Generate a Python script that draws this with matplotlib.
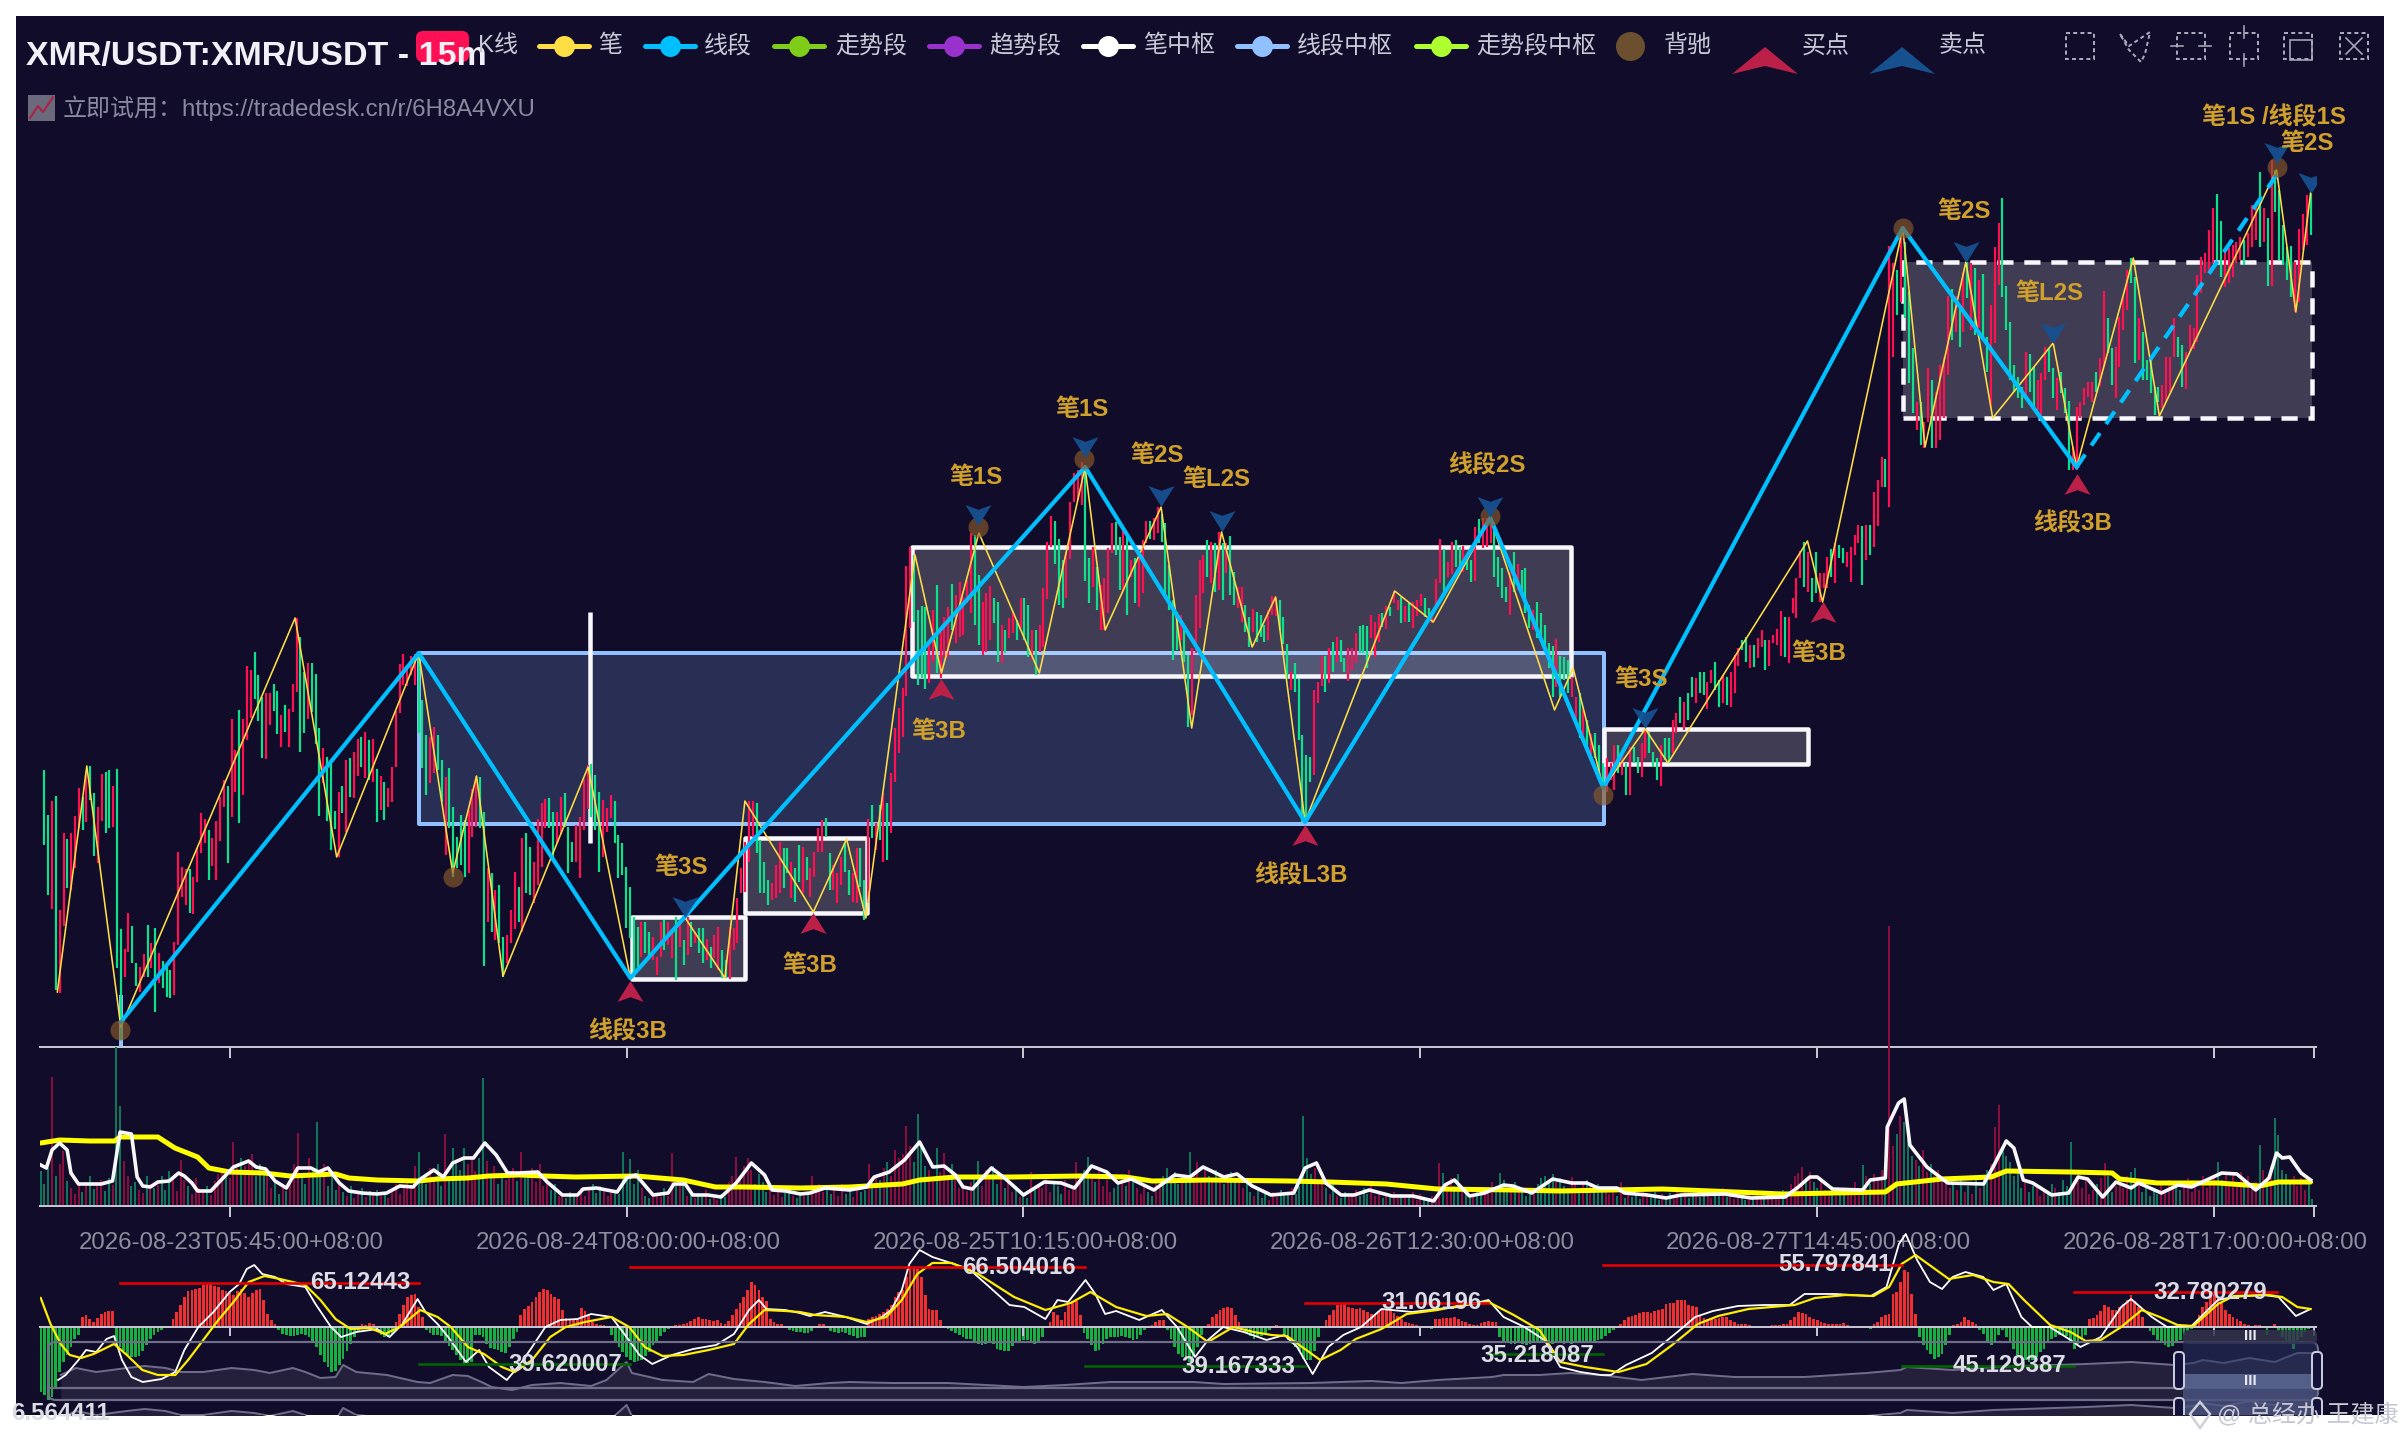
import matplotlib
matplotlib.use("Agg")
import matplotlib.pyplot as plt
import numpy as np
from matplotlib.patches import Rectangle, FancyBboxPatch, Polygon
from matplotlib.path import Path
from matplotlib.transforms import ScaledTranslation

# ---------- candles: (high, low, up) per stretch of the chart ----------
bars_a = [(290,215,0),(245,165,0),(259,151,1),(264,70,0),(150,67,1),(227,134,1),(221,172,0),(227,170,1),(244,192,1),(272,232,1),
(263,230,0),(286,238,1),(294,260,0),(267,204,0),(253,197,1),(286,239,1),(288,227,0),(290,232,0),(274,233,1),(291,92,0),
(131,20,0),(111,83,1),(147,108,1),(134,97,0),(97,74,0),(93,68,1),(106,83,1),(135,83,0),(117,92,1),(132,48,0),
(107,77,1),(99,72,0),(97,63,0),(90,62,0),(118,65,1),(208,115,1),(193,163,1),(191,155,1),(191,147,0),(183,146,1),
(212,178,1),(247,207,1),(241,217,1),(230,180,0),(222,194,1),(239,180,1),(263,219,1),(280,253,1),(274,197,0),(341,243,1),
(310,268,1),(350,237,0),(341,265,1),(394,320,1),(390,342,1),(408,361,0),(385,339,0),(363,302,0),(367,301,1),(367,335,1),
(376,349,0),(369,326,0),(345,313,1),(355,328,0),(351,313,1),(376,348,1),(442,368,1),(423,308,0),(388,327,0),(397,341,1),
(397,348,0),(386,316,0),(332,244,0),(312,277,1),(303,239,0),(296,210,0),(249,231,0),(268,203,1),(274,247,0),(300,228,1),
(302,263,0),(308,262,1),(321,284,1),(323,293,0),(328,282,1),(320,280,0),(321,278,1),(291,238,0),(284,250,1),(278,240,0),
(272,253,1),(293,258,1),(349,293,1),(396,347,1),(406,375,1),(395,374,1),(404,385,1),(406,375,1),(407,327,0)]
bars_b = [(360,292,0),(325,265,0),(323,277,1),(333,287,1),(325,290,0),(300,258,0),(283,205,1),(292,232,0),(253,183,0),(223,192,0),
(245,195,0),(240,183,0),(250,187,1),(271,223,1),(284,233,1),(283,232,0),(248,94,0),(192,138,1),(187,128,0),(170,120,1),
(175,117,0),(123,83,0),(125,97,1),(150,117,1),(188,131,1),(173,138,0),(222,128,1),(227,167,0),(213,165,0),(198,157,1),
(241,175,1),(257,193,1),(261,232,1),(262,232,0),(248,203,0),(248,217,1),(263,226,1),(267,233,0),(233,187,0),(218,198,0),
(235,198,1),(243,182,1),(281,230,1),(295,251,1),(296,243,0),(285,230,0),(268,188,0),(260,203,1),(252,228,1),(265,242,1),
(259,217,0),(225,182,0),(217,185,0),(193,132,0),(173,122,0),(143,83,0),(133,93,0),(138,103,1),(138,107,0),(128,102,0),
(123,100,1),(103,85,1),(138,103,1),(140,110,0),(138,115,1),(128,102,1),(143,80,0),(135,113,1),(120,95,0),(143,105,1),
(138,113,0),(128,117,1),(132,107,0),(132,97,0),(121,100,1),(113,92,0),(125,102,1),(133,90,1),(110,82,0),(100,82,0),
(133,81,1),(132,110,1),(162,117,1),(192,167,1),(218,168,1),(259,198,1),(259,223,1),(257,207,0),(220,167,0),(198,167,0),
(180,155,0),(177,160,1),(195,162,1),(218,167,1),(212,172,0),(212,187,0),(198,162,1),(192,158,0),(215,178,0),(213,167,1),
(203,180,0),(192,163,1),(208,183,1),(232,208,1),(240,208,1),(242,223,0),(207,170,0),(195,170,1),(187,157,1),(203,175,1),
(217,188,0),(190,165,0),(187,158,1),(212,157,1),(212,173,0),(180,140,0),(241,157,1),(255,222,0),(237,210,1),(255,220,0),
(267,198,1),(257,200,0),(287,227,1),(332,278,1),(352,307,1)]
bars_c = [(372,323,1),(494,364,1),(513,432,1),(505,438,0),(450,375,0),(454,382,0),(453,371,0),(417,377,1),(450,398,1),(475,387,0),
(428,382,1),(443,403,1),(453,403,1),(476,430,0),(465,417,1),(478,423,1),(463,425,1),(480,457,1),(527,447,1),(525,435,0),
(485,415,0),(458,405,1),(467,408,1),(474,420,1),(462,437,0),(458,398,0),(435,397,1),(430,407,0),(442,422,1),(448,427,1),
(440,420,0),(462,432,1),(462,420,0),(455,403,0),(430,400,1),(430,385,0),(435,408,1),(472,413,1),(518,461,1),(544,513,1),
(539,496,0),(521,455,0),(500,452,0),(508,462,1),(558,501,1),(587,558,1),(590,560,1),(598,555,1),(595,479,0),(502,457,0),
(513,473,1),(493,450,0),(475,430,1),(482,430,1),(512,447,1),(537,507,1),(538,505,0),(523,470,0),(533,468,1),(526,445,0),
(500,483,1),(502,457,0),(502,453,1),(520,467,1),(539,517,1),(539,521,0),(542,520,1),(553,527,1),(546,518,0),(537,463,0),
(495,450,0),(460,400,0),(448,410,0),(445,420,1),(435,398,0),(405,333,0),(412,345,1),(465,407,1),(500,432,1),(505,467,1),
(520,483,0),(518,477,1),(517,468,0),(528,470,1),(517,460,0),(517,487,1),(524,465,0),(488,455,0),(473,452,1),(473,438,1),
(455,428,0),(443,413,0),(451,428,1),(448,418,0),(445,423,0),(435,418,0),(450,420,1),(464,445,1),(462,444,1),(460,430,0),
(443,416,0),(416,381,0),(388,370,1),(397,368,0),(381,320,0),(325,238,0),(305,238,0),(303,278,0),(370,285,1),(378,357,1),
(404,374,1),(404,368,0),(412,377,1),(418,388,0),(423,398,1),(420,398,0),(402,388,0),(412,379,1),(412,390,1),(427,397,1),
(434,407,0),(435,407,0),(434,392,0),(445,422,1),(438,403,1),(446,418,1),(447,433,0),(454,431,1),(453,444,0),(469,457,1),(460,450,1)]
bars_d = [(463,437,0),(454,438,1),(457,438,0),(458,432,1),(460,444,1),(466,454,1),(462,443,0),(452,443,0),(449,437,1),(481,452,1),
(521,477,1),(511,463,0),(498,483,1),(518,486,1),(520,493,0),(513,492,0),(514,488,1),(504,490,0),(500,478,0),(533,479,1),
(541,517,0),(542,512,1),(542,513,1),(543,517,1),(535,483,0),(503,473,0),(492,462,0),(473,458,0),(488,445,1),(508,468,0),
(496,470,1),(490,467,0),(492,447,0),(455,432,0),(450,430,1),(458,422,0),(447,418,0),(435,408,0),(417,392,0),(414,363,0),
(421,373,1),(404,363,0),(403,380,0),(400,367,0),(383,363,1),(363,340,1),(367,322,0),(351,325,1),(340,313,0),(326,305,1),
(327,302,0),(315,288,0),(297,273,0),(302,268,1),(297,280,1),(315,270,1),(315,287,0),(307,285,1),(297,265,0),(313,265,1),
(313,297,0),(303,287,0),(317,283,1),(331,302,1),(328,307,0),(308,293,0),(302,280,0),(315,274,1),(322,300,0),(322,297,0),
(340,307,1),(347,327,1),(363,337,0),(358,330,1),(367,340,0),(383,363,0),(382,357,1),(388,367,0),(388,365,0),(378,351,1),
(390,377,1),(398,370,0),(380,353,0),(385,357,1),(383,355,0),(388,353,1),(405,367,1),(412,394,1),(420,410,0),(423,398,0),
(415,392,1),(415,393,0),(422,402,1),(430,413,1),(420,390,0),(420,394,1),(425,417,1),(431,415,1),(449,404,1),(443,403,0),
(443,397,1),(462,447,1),(482,442,1),(509,482,1),(518,473,0),(508,468,1),(482,458,0),(508,467,0),(487,458,1),(487,472,1),
(503,472,1),(511,483,0),(517,477,1),(515,502,0),(512,497,0),(508,493,1),(513,478,1),(525,505,1),(535,517,1),(534,475,0),
(535,500,1),(535,505,0),(568,513,1),(580,534,1)]
bars_e = [(603,573,1),(601,573,0),(814,553,1),(797,703,1),(790,745,0),(832,758,1),(818,742,0),(768,677,0),(712,647,0),(658,630,1),
(658,615,0),(638,612,1),(692,638,1),(680,612,0),(668,612,1),(695,620,1),(703,642,1),(764,685,1),(771,720,0),(764,728,1),
(753,713,0),(788,728,1),(798,762,0),(797,730,1),(792,725,0),(780,732,1),(786,722,0),(723,688,0),(755,652,1),(813,717,1),
(837,775,1),(862,763,0),(774,730,0),(738,680,0),(695,668,0),(683,662,0),(673,652,0),(708,662,1),(706,668,0),(693,653,0),
(680,650,1),(687,643,1),(713,680,1),(712,688,0),(692,662,0),(682,650,1),(688,667,0),(672,647,0),(659,590,0),(613,590,1),
(653,590,1),(658,642,1),(672,655,1),(678,663,1),(678,658,1),(688,668,0),(702,674,1),(769,693,1),(742,707,0),(712,675,0),
(713,662,1),(743,693,1),(763,730,1),(790,750,1),(802,777,0),(783,697,0),(742,700,1),(728,680,0),(700,680,0),(704,667,0),
(673,645,0),(673,658,0),(675,652,1),(703,658,1),(703,668,1),(742,703,1),(723,703,0),(715,673,0),(708,671,1),(735,710,1),
(732,711,1),(785,718,1),(803,767,1),(807,787,1),(830,788,1),(852,797,1),(866,800,0),(839,783,0),(808,773,1),(812,777,1),
(815,783,1),(818,797,1),(823,800,1),(820,795,0),(827,803,1),(855,813,1),(853,820,1),(888,813,0),(852,818,1),(842,774,0),
(900,774,1),(890,848,0),(870,800,0),(835,795,0),(813,780,0),(814,763,0),(798,748,1),(831,758,1),(846,810,1),(865,815,1),(867,825,0)]
bar_spans = [(1, 100), (101, 227), (228, 359), (360, 486), (487, 600.5)]

# ---------- structure drawn on the price chart ----------
bi_idx = [4.4,12.2,21.2,67.3,78.3,100,109,115.3,122.3,144.8,156,170.5,181,186.3,204.4,213.2,218.3,231.3,238.3,248.2,264.2,276.3,281.6,296.4,304.5,312.4,320.5,326.7,334.5,358.2,368.4,383.5,400.5,405.4,413.4,424.5,430.5,467.4,471.4,492.6,498.5,509.3,516.4,532.4,538.6,553.6,560.5,591.5,596.6,600.5]
bi_price = [68,294,33,442,203,407,187,284,84,293,82,142,82,259,148,221,142,505,387,527,387,593,430,553,332,528,413,463,238,469,438,542,350,392,272,331,297,519,458,832,613,798,642,717,593,802,644,890,748,867]
seg_idx = [21.2,100,156,276.3,334.5,383.5,413.4,492.6,538.6]
seg_price = [38,407,82,593,238,542,272,832,593]
seg_pending_idx = [538.6,591.5]
seg_pending_price = [593,885]
bi_zs_left = [156.4,186.3,230.4,413.7,145.3]
bi_zs_right = [186.3,218.6,404.8,467.6,145.3]
bi_zs_low = [81,147,384,296,217]
bi_zs_high = [143,222,513,331,448]
pending_zs = (492.6, 601, 642, 798)
seg_zs_left = [100, 21.2]
seg_zs_right = [413.6, 21.2]
seg_zs_low = [236, 13]
seg_zs_high = [407, 65]
divergence_idx = [21,109,248,276,383.5,413.3,492.6,591.5]
divergence_price = [30,183,533,601,544,265,832,893]
buy_idx = [156,204.4,238.3,334.5,471.4,538.6]
buy_price = [69,137,371,225,448,576]
sell_idx = [248,276.3,296.4,312.4,383.5,424.5,170.5,509.3,532.4,591.5,600.5]
sell_price = [545,613,564,539,553,342,153,808,727,907,877]
signal_text = ['笔1S','笔1S','笔2S','笔L2S','线段2S','笔3S','线段L3B','笔3B','笔3S','笔3B','线段3B','笔3B','笔2S','笔L2S','线段3B','笔1S /线段1S','笔2S']
signal_idx = [247.6,275.6,295.4,311,382.5,423.4,333.5,237.5,169.5,203.5,155.3,470.4,508.9,531.5,537.6,590.7,599.6]
signal_price = [583,651,605,580,594,381,184,329,193,95,28,407,848,767,536,942,917]

# ---------- volume ----------
volume = [35,22,38,129,30,42,55,25,18,12, 22,14,24,30,17,20,26,15,28,21, 159,100,45,30,20,24,16,13,30,22,
18,21,30,16,35,28,15,46,26,20, 12,28,18,13,20,11,25,32,36,34, 28,64,38,48,40,44,52,30,42,35,
30,18,24,12,20,15,26,42,73,30, 22,48,35,84,30,42,20,35,16,24, 14,10,20,8,13,18,9,15,12,16,
10,14,8,16,22,12,18,25,20,40, 54,30,22,38,28,42,20,72,30,58, 45,36,58,42,50,35,48,128,45,28,
40,22,30,26,35,38,25,54,28,30, 38,24,42,20,32,16,22,10,12,8, 14,9,12,18,10,16,22,13,20,15,
10,14,16,12,54,30,47,22,36,18, 10,8,14,12,9,18,10,53,20,26, 22,10,14,8,12,9,16,7,11,6,
12,9,24,30,49,26,40,48,36,22, 32,24,14,20,11,16,9,13,18,10, 8,14,10,12,30,18,22,14,20,12,
16,10,22,12,18,9,20,14,16,42, 24,30,26,38,44,30,56,48,52,80, 60,44,92,58,40,36,28,58,34,53,
30,42,26,18,22,15,24,30,45,20, 36,28,40,22,32,18,26,14,20,9, 12,8,34,16,22,18,28,14,24,20,
12,26,16,20,44,30,36,49,32,24, 36,20,26,14,18,22,26,20,36,24, 18,12,20,14,10,24,18,30,38,26,
34,22,30,28,54,32,44,24,38,30, 26,36,28,22,32,34,26,30,18,24, 14,10,16,8,12,6,14,9,16,11,
14,18,12,20,90,48,32,38,24,30, 18,12,22,10,8,14,9,12,16,10, 18,12,20,10,14,8,12,9,14,10,
12,8,10,14,6,12,9,5,10,7, 43,33,24,28,20,32,14,12,8,10, 14,12,16,18,24,20,33,26,16,22,
24,18,14,10,16,12,22,28,30,26, 32,24,28,20,18,29,22,16,24,26, 20,16,22,14,16,12,18,10,24,8,
14,9,12,7,16,10,8,14,6,12, 9,13,7,16,10,14,8,12,18,9, 15,11,8,14,10,18,9,12,7,14,
10,6,12,8,14,9,7,11,8,13, 9,16,12,22,30,33,39,28,34,24, 18,28,16,12,20,10,14,18,12,16,
24,18,41,30,22,32,26,36,40,280, 60,72,90,84,68,50,46,40,56,34, 42,30,36,24,30,18,22,16,28,14,
20,12,26,18,30,36,42,79,101,59, 50,44,30,34,18,26,14,20,22,10, 16,12,22,18,14,26,20,64,24,30,
18,26,12,16,22,28,43,30,14,20, 26,18,30,34,38,22,14,20,10,16, 12,22,14,26,18,24,16,20,28,14,
22,16,30,18,24,28,44,26,34,20, 32,22,34,26,30,18,24,61,36,28, 40,88,71,36,32,24,30,20,28,16, 22,7]
vol_fast_idx = [0,1.5,3,5,7,8,10,13,16,19,21,24,25.5,27,29,31,34,36.5,38,40,41.5,45,48,51,55,57,59.5,62,65,68,71.5,73.5,76,79,81.5,85,89,91.5,95,98.5,100.5,104,106.5,109,112,114.5,117.5,120.5,123.5,126.5,131.5,134,138,142,143.5,147,152.5,155,157.5,162,166,167.5,170.5,172.5,176.5,180,184,188,191.5,193.5,197,201,203.5,207.5,214,218.5,220.5,224.5,228.5,232.5,236,239,242,244,246.5,251.5,255,260,265.5,270,273.5,278,282,285,288.5,294.5,300,304,307.5,313,316.5,320.5,325.5,331.5,334.5,337.5,340,344,347.5,351.5,357.5,363,368.5,371.5,374,378,382,387,389.5,394.5,400,405,409,412,417,419,425,430,434,445.5,452.5,461.5,465,468,470,474,482,484,488,488.5,491.5,493,494.5,499,504.5,514,516.5,520,522,524.5,527,532,536.5,539,541.5,545.5,549,553,555,561,565.5,569,573,577,581,586,589.5,591.5,593,595,598,600.5]
vol_fast = [41,38,56,63,56,33,22,22,22,25,74,72,29,20,19,24,25,33,30,23,15,15,27,39,45,39,37,25,18,38,38,34,38,23,15,13,12,13,20,19,27,36,29,43,48,48,63,51,33,33,34,24,11,11,17,18,14,28,31,11,13,22,22,11,11,9,23,43,31,16,15,12,13,18,16,19,29,34,46,64,39,40,31,19,17,38,28,11,24,23,18,40,34,23,27,16,31,29,39,29,32,20,11,13,38,43,23,11,11,16,10,10,5,21,26,10,13,21,20,13,27,23,23,18,18,13,11,8,11,12,8,9,19,29,29,17,16,26,28,79,103,107,61,39,23,22,39,65,58,26,23,11,13,29,27,9,24,18,23,13,21,19,26,33,32,16,28,53,48,49,33,26]
vol_slow_idx = [0,5,13,19.5,21,31,35.5,41.5,44.5,50,59,66,78,81.5,89,100,105,113,118.5,126.5,133,141.5,157.5,170,178.5,186,201,214,228,232.5,242,257,275,287,294,309,330,341,356,369.5,390,402,429,442,461,488,491,503,516,520,537,548,550,560,576,587,592,600.5]
vol_slow = [63,66,65,65,69,69,58,49,38,34,33,30,32,28,26,25,27,28,30,31,30,29,30,26,19,19,18,19,22,26,29,29,30,29,25,26,25,24,22,17,16,15,17,15,12,14,22,27,29,35,34,33,27,23,23,20,24,24]

# ---------- MACD ----------
macd_hist = [-65,-68,-73,-70,-60,-45,-35,-28,-20,-12, -8,10,12,8,5,9,13,15,16,16, -14,-20,-24,-28,-30,-30,-29,-24,-18,-12,
-8,-5,-3,-1,0,8,15,22,30,36, 37,38,39,42,43,43,41,40,37,36, 34,32,36,38,34,30,34,37,38,27,
13,7,3,-3,-7,-8,-9,-9,-8,-7, -8,-10,-14,-20,-28,-35,-40,-45,-44,-38, -32,-24,-17,-10,-5,3,2,4,3,-5,
-8,-10,-10,-7,5,13,22,30,32,33, 20,10,-3,-6,-8,-8,-9,-14,-19,-23, -28,-33,-37,-36,-35,-8,-8,-10,-17,-21,
-22,-23,-25,-26,-20,-12,-5,12,18,21, 25,30,35,38,37,33,30,28,17,9, 8,8,8,19,16,12,5,3,2,2,
0,-8,-14,-20,-25,-30,-33,-35,-34,-33, -29,-25,-18,-14,-9,-5,-2,1,2,2, 3,4,6,8,10,8,8,7,6,7,
4,3,6,12,18,24,30,37,45,42, 37,30,26,8,5,3,3,1,-3,-4, -5,-5,-6,-6,-4,-1,3,3,1,-4,
-5,-6,-5,-6,-8,-9,-11,-10,-10,8, 10,11,13,15,18,22,30,35,37,50, 60,60,58,50,32,18,17,17,7,-1,
-2,-4,-6,-8,-10,-12,-12,-14,-17,-18, -17,-15,-17,-22,-23,-24,-24,-19,-15,-14, -13,-13,-14,-17,-16,-10,0,5,15,12,
7,15,22,26,26,12,-6,-12,-18,-24, -23,-17,-12,-10,-10,-10,-9,-10,-11,-13, -12,-8,-3,0,2,5,7,7,-3,-12,
-20,-27,-30,-33,-35,-30,-20,-8,0,3, 10,13,17,19,20,19,12,5,1,-6, -9,-12,-10,-9,-7,-3,0,2,0,-7,
-13,-17,-20,-24,-32,-33,-33,-24,-10,0, 7,12,17,22,24,23,20,19,18,19, 17,15,13,12,15,18,18,17,14,11,
8,5,4,3,2,0,0,0,-2,8, 8,9,9,9,10,8,6,5,3,2, 2,4,5,6,5,5,-10,-14,-16,-17,
-17,-16,-17,-18,-17,-16,-15,-16,-15,-16, -17,-16,-16,-17,-16,-17,-16,-15,-16,-15, -14,-14,-13,-12,-9,-6,-3,0,3,7,
10,11,12,14,15,15,14,16,17,18, 23,24,24,27,27,27,22,21,20,12, 9,8,8,8,9,10,10,7,5,3,
3,3,2,1,1,1,1,1,2,2, 2,3,3,7,10,15,14,13,10,8, 7,5,4,3,3,3,3,4,2,1,
1,1,-1,0,-2,3,5,10,12,13, 33,35,45,57,55,33,13,-10,-18,-23, -27,-32,-30,-27,-18,-8,2,3,5,10,
7,5,3,-3,-7,-15,-18,-16,-8,-3, -10,-15,-22,-28,-31,-33,-35,-33,-30,-25, -22,-15,-12,-10,-8,-8,-9,-14,-22,-17,
-13,-8,8,9,12,16,22,20,17,17, 20,23,27,32,26,20,10,0,-4,-8, -13,-15,-18,-20,-19,-16,-13,-8,-4,-2,
3,12,20,25,31,35,30,24,17,13, 10,8,6,3,2,1,2,2,1,-8, 1,3,-4,-10,-15,-17,-22,-13,-10,-5, -2,0]
dif_idx = [4.6,6.6,10,12,14.7,17.4,19.4,21.5,24,27,32,35.6,38,41.7,45.7,50,52.5,54.5,56.5,58.6,62,65,70,72.7,76.8,79.5,83.5,89,92.3,95.7,99.7,101.8,105,107.8,112.5,116,118.6,123.3,126.7,130,133.5,137.5,142,145.6,151,155,158.4,161.8,167,172.6,178.7,183.4,187.4,190,192,197,200.8,203.5,207.5,213,218.5,222.5,225,227.8,229.8,232.5,235.9,240,245.6,251,256.3,260.2,265.8,269,271.8,276.4,279,281.6,284.5,290.6,296.6,300.6,305.4,308.8,312.8,318.3,324.3,329,332.4,336.5,340.6,344.6,349.3,354.7,362.8,369.5,375,383,387,392.5,397.8,402,407.3,412.7,415.4,419.4,426.2,433,437.7,442.4,449,455.9,462.7,466.6,474.8,484.2,488.3,491.6,493.4,496.4,499.8,503,505.8,509.2,513.9,516.6,520,524,526.8,531.5,537,539.6,545,550.4,553,558.5,562.5,569,576,580,588,592,596.6,600.5]
dif = [-53,-48,-33,-23,-25,-12,-9,-33,-50,-55,-52,-45,-23,0,15,35,43,58,62,53,50,43,40,23,0,-10,-5,-2,-10,3,28,15,3,-10,-35,-23,-40,-53,-38,-20,0,7,8,13,10,-10,-28,-37,-28,-22,-18,-7,17,27,18,17,14,11,15,10,3,10,17,37,63,77,70,65,58,40,22,20,8,27,25,47,33,13,16,7,17,0,-30,-13,0,-5,-13,-8,-20,-47,-20,-8,0,18,15,18,20,27,10,0,-13,-40,-45,-48,-48,-38,-26,-5,10,16,21,22,22,33,33,31,40,83,93,67,45,38,50,55,50,37,43,10,0,0,-13,-20,-10,20,28,10,0,1,27,30,32,30,11,18]
dea_idx = [0,2.6,5.3,7.7,10.7,14,19.4,22.8,26.9,31,35.6,39,43,47,51,55,59.2,63.3,70,74,78,82,87,91,95,100.4,105,108.5,113,117.3,122,125.4,130,134.8,138.9,144,151,155.7,159.8,164.5,170,176.7,183.4,187.4,191.5,197,200.8,204.9,213,218.5,223.7,227.8,231.9,235.9,241,248,257.5,265.8,272.5,277.7,284.5,292.5,298,303.4,308.8,315.5,320.9,325.6,329.7,333.7,338.5,343.9,347.9,354.7,361.4,369.5,376.3,383,389.7,396.5,402,408.6,417.4,424.8,431.6,438.4,443.8,451.8,464,469.4,477.5,484.9,489,492.3,496,500.4,504.8,511.2,516.6,520.6,524.7,531.6,537,541,545,550.4,555.8,560.6,565.3,569.5,576,580.2,589.5,593,597,600.5]
dea = [29,3,-17,-28,-31,-27,-17,-28,-43,-48,-48,-33,-13,7,25,45,51,48,42,27,8,-2,-1,-7,0,17,10,0,-20,-27,-40,-45,-33,-10,0,5,10,0,-20,-29,-28,-23,-17,3,17,16,15,12,10,5,10,27,53,64,64,53,30,17,24,35,20,11,13,0,-15,0,-5,-8,-9,-20,-33,-23,-12,-2,13,17,22,25,12,-3,-35,-40,-45,-37,-18,3,11,18,22,29,32,31,40,63,72,60,48,52,45,43,27,2,-5,-14,-13,0,17,10,2,1,23,31,32,30,20,18]
peak_start = [21,100,156,276.4,334.5,383,413.4,492.3,538]
peak_end = [100,156,276.4,334.5,383,413.4,492.3,538,591.5]
peak_level = [44,-37,60,-39,24,-27,62,-39,35]
peak_text = ['65.12443','39.620007','66.504016','39.167333','31.06196','35.218087','55.797841','45.129387','32.780279']
peak_text_idx = [84.6,138.9,258.8,316.9,367.9,395.8,474.8,520.9,574]
peak_text_level = [44.2,-37.5,59.2,-39.8,24.5,-28.2,62.5,-38.8,34.5]
first_peak_text = '6.564411'

# ---------- overview strip ----------
overview_idx = [5.3,9.3,14.7,22.8,27.5,33,37,43,50.5,56.5,60.6,66.7,70,74,78,80,83.5,91.6,99.7,103,109,113,116.6,119.3,124.7,130,137.5,145.6,149.7,155,156.4,164.5,172.6,176.7,183.4,191.5,199.6,208.8,214,225,240,260,271,283,305,313,336,352,360,369.5,384,387,396.5,404.6,412.7,423.5,437,448,466.7,483,492,493.7,505.8,516.6,541,553,564.5,569.5,572,577.5,584.3,591,597,601]
overview = [25,32,28,32,34,32,28,28,32,30,27,32,28,22,23,35,28,25,18,17,25,24,18,13,10,15,17,14,20,38,27,20,18,26,21,18,14,17,18,17,17,13,15,18,18,16,17,19,17,20,23,25,25,27,25,20,26,23,23,27,30,33,30,33,36,38,35,37,40,37,42,38,47,47]

tick_idx = [50,155,260,365,470,575]
tick_labels = ['2026-08-23T05:45:00+08:00','2026-08-24T08:00:00+08:00','2026-08-25T10:15:00+08:00','2026-08-26T12:30:00+08:00','2026-08-27T14:45:00+08:00','2026-08-28T17:00:00+08:00']
legend_lines = ['笔','线段','走势段','趋势段','笔中枢','线段中枢','走势段中枢']

# ---------- styling ----------
BG = '#100C2A'
RED, GREEN = '#FF1050', '#0FE08A'
VOL_RED, VOL_GREEN = '#870E3D', '#0F765A'
AXIS = '#C4C4D2'
GOLD = '#D0A02C'
BI = '#FFDD44'
SEG = '#00BFFF'
SEG_ZS = '#90C0FF'
SELL, BUY = '#16508F', '#BB2049'
FONT = ['Liberation Sans', 'Noto Sans CJK SC', 'DejaVu Sans']
plt.rcParams['font.family'] = FONT
PX = 0.72  # points per output pixel at dpi 100
W, H = 2400, 1440

fig = plt.figure(figsize=(24, 14.4), dpi=100, facecolor='white')

def panel(left, top, right, bottom, zorder):
    ax = fig.add_axes([left / W, 1 - bottom / H, (right - left) / W, (bottom - top) / H], zorder=zorder)
    ax.patch.set_alpha(0)
    for s in ax.spines.values():
        s.set_visible(False)
    ax.set_yticks([])
    ax.set_xticks([])
    ax.set_xlim((left - 40.7) / 3.78, (right - 40.7) / 3.78)
    return ax

chrome_bg = fig.add_axes([0, 0, 1, 1], zorder=0)
chrome_bg.set_xlim(0, W); chrome_bg.set_ylim(H, 0); chrome_bg.axis('off')
chrome_bg.add_patch(Rectangle((16, 16), 2368, 1399, fc=BG, ec='none'))

all_ticks = tick_idx + [601.5]

# ---- price panel ----
ax = panel(40, 27, 2316, 1047, 3)
ax.set_ylim(13, 1033)
ax.spines['bottom'].set_visible(True)
ax.spines['bottom'].set_color(AXIS)
ax.spines['bottom'].set_linewidth(2 * PX)
ax.set_xticks(all_ticks)
ax.set_xticklabels([])
ax.tick_params(axis='x', direction='out', length=11 * PX, width=2 * PX, color=AXIS)

for l, r, lo, hi in zip(seg_zs_left, seg_zs_right, seg_zs_low, seg_zs_high):
    ax.add_patch(Rectangle((l, lo), r - l, hi - lo, fc=SEG_ZS, alpha=0.2, ec='none', zorder=1))
    ax.add_patch(Rectangle((l, lo), r - l, hi - lo, fc='none', ec=SEG_ZS, lw=4 * PX, zorder=1.1, joinstyle='round'))
for l, r, lo, hi in zip(bi_zs_left, bi_zs_right, bi_zs_low, bi_zs_high):
    ax.add_patch(Rectangle((l, lo), r - l, hi - lo, fc='white', alpha=0.2, ec='none', zorder=1.2))
    ax.add_patch(Rectangle((l, lo), r - l, hi - lo, fc='none', ec='#F8F8FC', lw=4.5 * PX, zorder=1.3, joinstyle='round'))
pl, pr, plo, phi = pending_zs
ax.add_patch(Rectangle((pl, plo), pr - pl, phi - plo, fc='white', alpha=0.2, ec='none', zorder=1.2))
ax.add_patch(Rectangle((pl, plo), pr - pl, phi - plo, fc='none', ec='#F8F8FC', lw=4.5 * PX, zorder=1.3,
                       linestyle=(0, (3.6, 2.4))))

bar_idx, bar_high, bar_low, bar_up = [], [], [], []
for rows, (first, last) in zip([bars_a, bars_b, bars_c, bars_d, bars_e], bar_spans):
    bar_idx.extend(np.linspace(first, last, len(rows)))
    bar_high.extend(r[0] for r in rows)
    bar_low.extend(r[1] for r in rows)
    bar_up.extend(r[2] for r in rows)
bar_idx = np.array(bar_idx); bar_up = np.array(bar_up)
ax.vlines(bar_idx, bar_low, bar_high, colors=[RED if u else GREEN for u in bar_up], lw=2.2 * PX, zorder=2)

ax.plot(bi_idx, bi_price, color=BI, lw=1.6 * PX, zorder=3)
ax.plot(seg_idx, seg_price, color=SEG, lw=4.2 * PX, zorder=4)
ax.plot(seg_pending_idx, seg_pending_price, color=SEG, lw=4.2 * PX, zorder=4, linestyle=(0, (3.6, 2.6)))

ax.scatter(divergence_idx, divergence_price, s=(20 * PX) ** 2, color='#8B5A2B', alpha=0.65, linewidths=0, zorder=5)
up_arrow = Path([(0, .4), (.5, -.4), (0, -.22), (-.5, -.4), (0, .4)], closed=True)
down_arrow = Path([(0, -.4), (.5, .4), (0, .22), (-.5, .4), (0, -.4)], closed=True)
ax.scatter(buy_idx, buy_price, s=(26 * PX) ** 2, marker=up_arrow, color=BUY, linewidths=0, zorder=6)
ax.scatter(sell_idx, sell_price, s=(26 * PX) ** 2, marker=down_arrow, color=SELL, alpha=0.95, linewidths=0, zorder=6)
for t, i, p in zip(signal_text, signal_idx, signal_price):
    ax.text(i, p, t, color=GOLD, fontsize=24 * PX, fontweight='bold', ha='center', va='center', zorder=7, clip_on=False)

# ---- volume panel ----
vx = panel(40, 1047, 2316, 1206, 4)
vx.set_ylim(0, 159)
vx.spines['bottom'].set_visible(True)
vx.spines['bottom'].set_color(AXIS)
vx.spines['bottom'].set_linewidth(2 * PX)
vx.set_xticks(all_ticks)
vx.set_xticklabels(tick_labels + [''], color='#8E8E9E', fontsize=24 * PX)
vx.tick_params(axis='x', direction='out', length=11 * PX, width=2 * PX, color=AXIS, pad=15 * PX)
vol_x = np.arange(len(volume))
nearest = np.abs(bar_idx[None, :] - vol_x[:, None]).argmin(axis=1)
vx.vlines(vol_x, 0, volume, colors=[VOL_RED if bar_up[n] else VOL_GREEN for n in nearest],
          lw=2 * PX, clip_on=False, zorder=1)
vx.plot(vol_slow_idx, vol_slow, color='#FFFF00', lw=5 * PX, zorder=3, solid_capstyle='round', solid_joinstyle='round')
vx.plot(vol_fast_idx, vol_fast, color='white', lw=3.6 * PX, zorder=4, alpha=0.97, solid_joinstyle='round')

# ---- overview strip ----
ovx = panel(48, 1342, 2318, 1400, 5)
ovx.set_ylim(0, 58)
ovx.fill_between(overview_idx, 0, overview, color='#24203C', lw=0, zorder=1)
ovx.plot(overview_idx, overview, color='#6E6C88', lw=2 * PX, zorder=2)
ov2 = panel(48, 1400, 2318, 1415, 5)
ov2.set_ylim(28, 43)
ov2.fill_between(overview_idx, 0, overview, color='#24203C', lw=0, zorder=1)
ov2.plot(overview_idx, overview, color='#6E6C88', lw=2 * PX, zorder=2)

# ---- MACD panel ----
mx = panel(40, 1220, 2316, 1415, 6)
mx.set_ylim(-88, 107)
mx.spines['bottom'].set_visible(True)
mx.spines['bottom'].set_position(('data', 0))
mx.spines['bottom'].set_color(AXIS)
mx.spines['bottom'].set_linewidth(2 * PX)
mx.set_xticks(all_ticks)
mx.set_xticklabels([])
mx.tick_params(axis='x', direction='out', length=9 * PX, width=2 * PX, color=AXIS)
hist = np.array(macd_hist, dtype=float)
hx = np.arange(len(hist))
mx.bar(hx, hist, width=0.72, color=['#F03030' if v > 0 else '#18B040' for v in hist], lw=0, zorder=1)
mx.plot(dif_idx, dif, color='white', lw=1.8 * PX, zorder=3)
mx.plot(dea_idx, dea, color='#FFEE00', lw=2.2 * PX, zorder=4)
for a, b, lv in zip(peak_start, peak_end, peak_level):
    mx.plot([a, b], [lv, lv], color='#E60000' if lv > 0 else '#006400', lw=2.6 * PX, zorder=5)
for t, i, lv in zip(peak_text, peak_text_idx, peak_text_level):
    mx.text(i, lv, t, color='#DCDCE4', fontsize=24 * PX, fontweight='bold', ha='center', va='center', zorder=6)

# ---- page furniture, in output pixels ----
ui = fig.add_axes([0, 0, 1, 1], zorder=10)
ui.set_xlim(0, W); ui.set_ylim(H, 0); ui.axis('off'); ui.patch.set_alpha(0)
page_clip = Rectangle((16, 16), 2368, 1399, transform=ui.transData)
tail = ui.text(61, 1413, first_peak_text, color='#DCDCE4', fontsize=24 * PX, fontweight='bold', ha='center', va='center')
tail.set_clip_path(page_clip)

ui.add_patch(FancyBboxPatch((48, 1342), 2270, 58, boxstyle='round,pad=0,rounding_size=8', fc='none', ec='#6E6E88', lw=2.2 * PX, zorder=2))
ui.plot([48, 2318], [1388, 1388], color='#6E6E88', lw=2.2 * PX, zorder=2)
ui.add_patch(FancyBboxPatch((2183, 1330), 134, 14, boxstyle='round,pad=0,rounding_size=5', fc='#34344C', ec='none', alpha=0.85, zorder=3))
ui.add_patch(Rectangle((2183, 1342), 134, 46, fc='#2A3360', alpha=0.55, ec='none', zorder=3))
ui.add_patch(Rectangle((2183, 1374), 134, 14, fc='#5A6690', alpha=0.9, ec='none', zorder=3))
ui.add_patch(Rectangle((2183, 1388), 134, 27, fc='#4A5480', alpha=0.8, ec='none', zorder=3))
for x, y in ((2250, 1336), (2250, 1381)):
    ui.text(x, y, 'III', color='#E8E8F0', fontsize=11, fontweight='bold', ha='center', va='center', zorder=4)
for x in (2179, 2317):
    ui.add_patch(FancyBboxPatch((x - 5, 1352), 10, 37, boxstyle='round,pad=0,rounding_size=4', fc='#14123A', ec='#C8CCD8', lw=2 * PX, zorder=5))
    lower = FancyBboxPatch((x - 5, 1398), 10, 30, boxstyle='round,pad=0,rounding_size=4', fc='#14123A', ec='#C8CCD8', lw=2 * PX, zorder=5)
    ui.add_patch(lower)
    lower.set_clip_path(page_clip)
ui.add_patch(Polygon([(2190, 1414), (2200, 1402), (2210, 1414), (2200, 1428)], closed=True, fc='none', ec='#CFCFD8', lw=2.4 * PX, zorder=6))
ui.text(2217, 1414, '@ 总经办 王建康', color='#C8C8D4', fontsize=24 * PX, ha='left', va='center', zorder=6)

ui.add_patch(FancyBboxPatch((416, 31), 53, 31, boxstyle='round,pad=0,rounding_size=7', fc='#FF1055', ec='none', zorder=1))
ui.text(26, 56, 'XMR/USDT:XMR/USDT - 15m', color='#F0F0F6', fontsize=34 * PX, fontweight='bold', ha='left', va='center', zorder=2)
ui.add_patch(Rectangle((28, 95), 27, 26, fc='#6A6A7C', ec='none', zorder=1))
ui.plot([30, 38, 43, 53], [118, 106, 112, 97], color='#B02040', lw=2 * PX, zorder=2)
ui.text(63, 108, '立即试用：https://tradedesk.cn/r/6H8A4VXU', color='#8A8A9E', fontsize=24 * PX, ha='left', va='center')

legend_grey = '#C8C8D6'
ui.text(498, 46, 'K线', color=legend_grey, fontsize=24 * PX, ha='center', va='center', zorder=3)
line_icon_x = [564, 670, 799, 954, 1108, 1262, 1441]
line_text_x = [598, 704, 835, 989, 1143, 1297, 1476]
line_colors = [BI, SEG, '#7FCC19', '#9932CC', '#FFFFFF', SEG_ZS, '#ADFF2F']
for ix, tx, name, col in zip(line_icon_x, line_text_x, legend_lines, line_colors):
    ui.plot([ix - 25, ix + 25], [46, 46], color=col, lw=5 * PX, solid_capstyle='round')
    ui.plot([ix], [46], 'o', color=col, ms=21 * PX, mew=0)
    ui.text(tx, 46, name, color=legend_grey, fontsize=24 * PX, ha='left', va='center')
ui.plot([1630], [46], 'o', color='#6B4F2E', ms=29 * PX, mew=0)
ui.text(1664, 46, '背驰', color=legend_grey, fontsize=24 * PX, ha='left', va='center')
ui.add_patch(Polygon([(1765, 47), (1798, 74), (1765, 66), (1732, 74)], closed=True, fc=BUY, ec='none'))
ui.text(1802, 46, '买点', color=legend_grey, fontsize=24 * PX, ha='left', va='center')
ui.add_patch(Polygon([(1902, 47), (1935, 74), (1902, 66), (1869, 74)], closed=True, fc=SELL, ec='none'))
ui.text(1938, 46, '卖点', color=legend_grey, fontsize=24 * PX, ha='left', va='center')

icon = dict(color='#A8A8BA', lw=2 * PX, linestyle=(0, (2, 1.6)))
for cx in (2080, 2135, 2191, 2244, 2298, 2354):
    if cx == 2135:
        ui.plot([cx - 15, cx - 6, cx + 6, cx + 15, cx + 10, cx + 6, cx - 6, cx - 15],
                [34, 46, 38, 32, 54, 62, 50, 34], **icon)
        continue
    ui.add_patch(Rectangle((cx - 14, 33), 28, 26, fc='none', ec='#A8A8BA', lw=2 * PX, linestyle=(0, (2, 1.6))))
    if cx == 2354:
        ui.plot([cx - 8, cx + 8], [38, 54], color='#A8A8BA', lw=1.6 * PX)
        ui.plot([cx - 8, cx + 8], [54, 38], color='#A8A8BA', lw=1.6 * PX)
    if cx == 2298:
        ui.add_patch(Rectangle((cx - 8, 40), 22, 20, fc='none', ec='#A8A8BA', lw=1.6 * PX))
    if cx == 2191:
        ui.plot([cx - 20, cx - 8], [46, 46], color='#A8A8BA', lw=1.6 * PX)
        ui.plot([cx + 8, cx + 20], [46, 46], color='#A8A8BA', lw=1.6 * PX)
    if cx == 2244:
        ui.plot([cx, cx], [26, 38], color='#A8A8BA', lw=1.6 * PX)
        ui.plot([cx, cx], [54, 66], color='#A8A8BA', lw=1.6 * PX)

for tick_label in vx.get_xticklabels():
    tick_label.set_transform(tick_label.get_transform() + ScaledTranslation(1.5 / 100, 0, fig.dpi_scale_trans))

fig.savefig('out.png', dpi=100, facecolor='white')
